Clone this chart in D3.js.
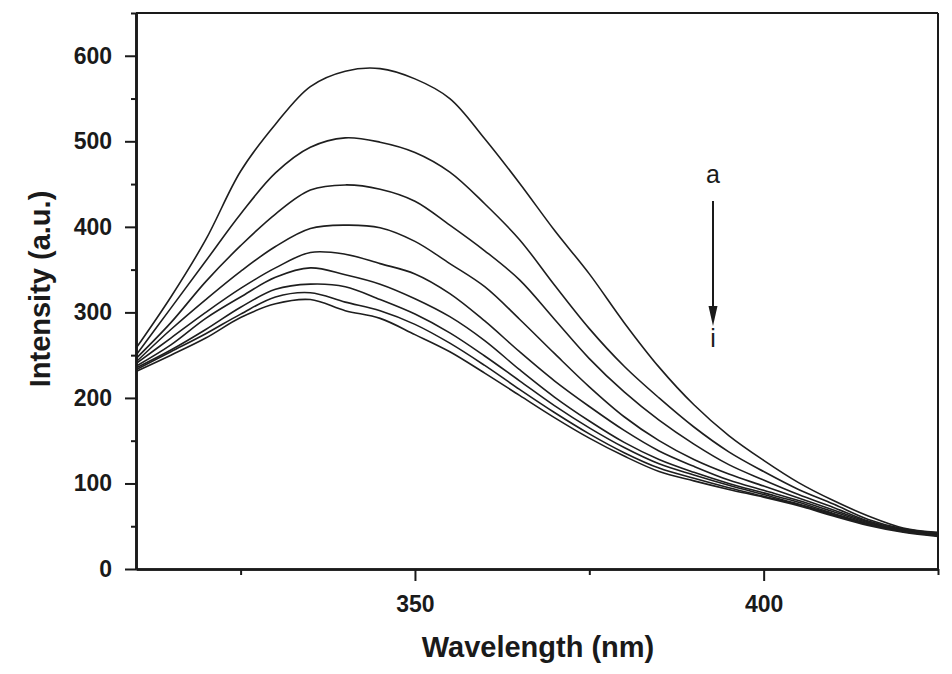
<!DOCTYPE html>
<html><head><meta charset="utf-8">
<script src="https://cdn.jsdelivr.net/npm/d3@7"></script>
<style>body{margin:0;background:#fff}svg{display:block}</style>
</head><body>
<svg id="chart" width="952" height="674"></svg>
<script>
const wavelengths = [310,315,320,325,330,335,340,345,350,355,360,365,370,375,380,385,390,395,400,405,410,415,420,425];
const curveA = [258,318,385,465,520,564,582,585,573,550,503,451,396,345,288,236,192,156,127,101,80,62,48,43];
const curveB = [250,305,360,415,463,493,504,499,487,464,427,385,332,281,237,200,166,137,114,93,76,58,47,42];
const curveC = [246,288,336,378,415,443,449,444,430,402,372,338,292,246,207,174,146,122,104,87,72,56,46,41];
const curveD = [242,280,315,348,377,398,402,399,383,357,330,292,252,213,178,150,128,111,97,83,69,55,45,40];
const curveE = [240,270,300,328,352,370,368,357,345,322,290,254,220,190,162,138,120,104,92,80,67,54,45,40];
const curveF = [237,262,293,318,341,352,344,333,316,295,267,233,201,173,148,128,113,100,89,78,65,53,44,40];
const curveG = [235,256,280,306,327,333,330,315,298,276,249,220,191,165,142,123,110,98,87,76,64,52,44,39];
const curveH = [233,254,275,298,318,323,312,302,286,264,238,210,183,158,136,118,106,95,85,75,63,52,44,39];
const curveI = [231,250,270,294,310,315,302,293,274,254,229,203,177,153,132,114,103,93,84,74,62,51,43,38];
const seriesNames = ["a","b","c","d","e","f","g","h","i"];
const xMajorTicks = [350, 400];
const xMinorTicks = [325, 375, 425];
const yMajorTicks = [0,100,200,300,400,500,600];
const yMinorTicks = [50,150,250,350,450,550,650];

const allSeries = [curveA,curveB,curveC,curveD,curveE,curveF,curveG,curveH,curveI];
const svg = d3.select("#chart");
const FONT = "'Liberation Sans', Arial, Helvetica, sans-serif";

const x = d3.scaleLinear().domain([310, 425]).range([136, 938]);
const y = d3.scaleLinear().domain([0, 650]).range([569, 13]);

// frame (top and right)
svg.append("line").attr("x1", x(310)).attr("x2", x(425)).attr("y1", y(650)).attr("y2", y(650))
  .attr("stroke", "#1a1a1a").attr("stroke-width", 2);
svg.append("line").attr("x1", x(425)).attr("x2", x(425)).attr("y1", y(650)).attr("y2", y(0))
  .attr("stroke", "#1a1a1a").attr("stroke-width", 2);

// curves
const line = d3.line()
  .x((d, i) => x(wavelengths[i]))
  .y(d => y(d))
  .curve(d3.curveCatmullRom.alpha(0.5));
svg.append("g").selectAll("path").data(allSeries).join("path")
  .attr("d", d => line(d))
  .attr("fill", "none").attr("stroke", "#1e1e1e").attr("stroke-width", 1.6);

// x axis
const xAxisMinor = d3.axisBottom(x).tickValues(xMinorTicks).tickSize(6).tickSizeOuter(0).tickFormat("");
const xAxisMajor = d3.axisBottom(x).tickValues(xMajorTicks).tickSize(12).tickSizeOuter(0).tickPadding(15).tickFormat(d3.format("d"));
const gxm = svg.append("g").attr("transform", `translate(0,${y(0)})`).call(xAxisMinor);
const gx = svg.append("g").attr("transform", `translate(0,${y(0)})`).call(xAxisMajor);
[gxm, gx].forEach(g => {
  g.select(".domain").attr("stroke", "#1a1a1a").attr("stroke-width", 2.6);
  g.selectAll(".tick line").attr("stroke", "#1a1a1a").attr("stroke-width", 2);
});
gx.selectAll(".tick text").attr("font-family", FONT).attr("font-weight", "bold")
  .attr("font-size", 23).attr("fill", "#1a1a1a");

// y axis
const yAxisMinor = d3.axisLeft(y).tickValues(yMinorTicks).tickSize(5).tickSizeOuter(0).tickFormat("");
const yAxisMajor = d3.axisLeft(y).tickValues(yMajorTicks).tickSize(11).tickSizeOuter(0).tickPadding(13).tickFormat(d3.format("d"));
const gym = svg.append("g").attr("transform", `translate(${x(310)},0)`).call(yAxisMinor);
const gy = svg.append("g").attr("transform", `translate(${x(310)},0)`).call(yAxisMajor);
[gym, gy].forEach(g => {
  g.select(".domain").attr("stroke", "#1a1a1a").attr("stroke-width", 2.6);
  g.selectAll(".tick line").attr("stroke", "#1a1a1a").attr("stroke-width", 2);
});
gy.selectAll(".tick text").attr("font-family", FONT).attr("font-weight", "bold")
  .attr("font-size", 23).attr("fill", "#1a1a1a");

// axis titles
svg.append("text").attr("x", 538).attr("y", 657).attr("text-anchor", "middle")
  .attr("font-family", FONT).attr("font-weight", "bold").attr("font-size", 29).attr("fill", "#1a1a1a")
  .text("Wavelength (nm)");
svg.append("text").attr("transform", "translate(50,289) rotate(-90)").attr("text-anchor", "middle")
  .attr("font-family", FONT).attr("font-weight", "bold").attr("font-size", 29).attr("fill", "#1a1a1a")
  .text("Intensity (a.u.)");

// annotation arrow a -> i
const ax = 713;
svg.append("text").attr("x", ax).attr("y", 183).attr("text-anchor", "middle")
  .attr("font-family", FONT).attr("font-size", 25).attr("fill", "#1a1a1a").text(seriesNames[0]);
svg.append("line").attr("x1", ax).attr("x2", ax).attr("y1", 201).attr("y2", 310)
  .attr("stroke", "#1a1a1a").attr("stroke-width", 2);
svg.append("path").attr("d", `M${ax-4.5},306 L${ax+4.5},306 L${ax},326 Z`).attr("fill", "#1a1a1a");
svg.append("text").attr("x", ax).attr("y", 347).attr("text-anchor", "middle")
  .attr("font-family", FONT).attr("font-size", 25).attr("fill", "#1a1a1a").text(seriesNames[seriesNames.length-1]);
</script>
</body></html>
